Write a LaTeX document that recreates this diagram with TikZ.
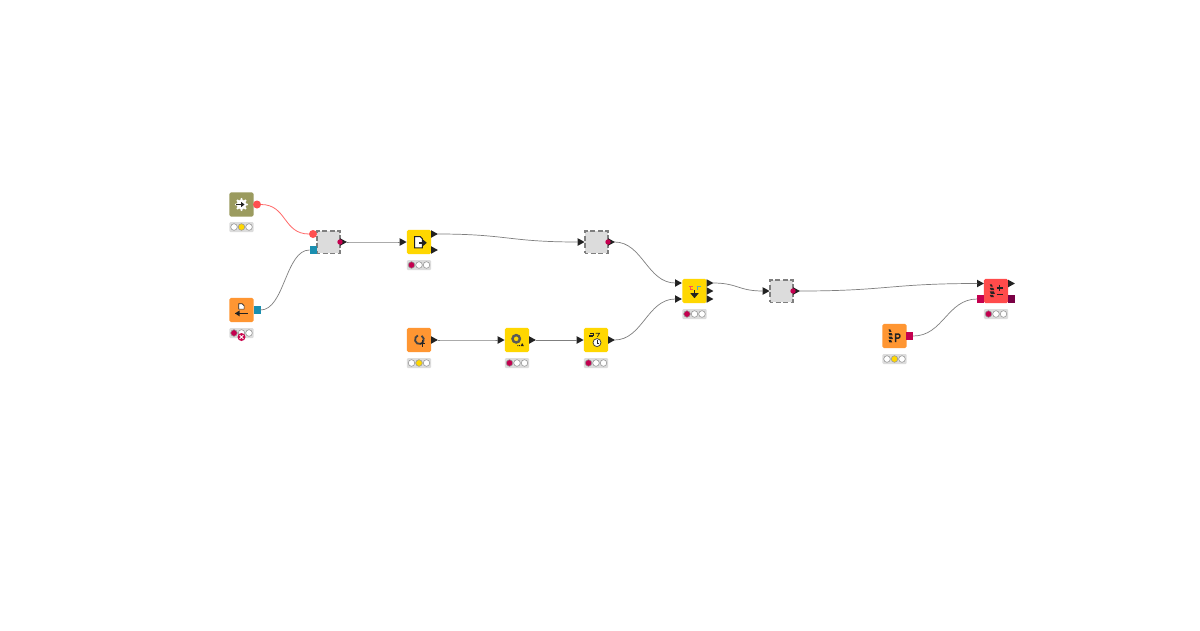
\documentclass[tikz,border=0pt]{standalone}
\definecolor{kolive}{HTML}{9B9B5F}
\definecolor{korange}{HTML}{FF9632}
\definecolor{kyellow}{HTML}{FFD700}
\definecolor{kred}{HTML}{FF4B4B}
\definecolor{kmeta}{HTML}{DCDCDC}
\definecolor{kcrim}{HTML}{C4004F}
\definecolor{kdark}{HTML}{7A0045}
\definecolor{kteal}{HTML}{1A8FB0}
\definecolor{kflow}{HTML}{FF5050}
\definecolor{kline}{HTML}{7F7F7F}
\definecolor{kport}{HTML}{222222}
\tikzset{
  kbox/.style={draw=none,rounded corners=1.8pt,minimum width=24.4pt,minimum height=24.4pt,inner sep=0pt,outer sep=0pt},
  kmetabox/.style={draw=kline,line width=1.6pt,dash pattern=on 5pt off 2.5pt,dash phase=2pt,fill=kmeta,minimum width=22.6pt,minimum height=22.6pt,inner sep=0pt,outer sep=0pt},
  ktray/.style={fill=kmeta,rounded corners=1.2pt,minimum width=24.4pt,minimum height=10pt,inner sep=0pt,outer sep=0pt},
  kconn/.style={draw=kline,line width=.7pt},
  kflowconn/.style={draw=kflow!85,line width=.8pt},
  kdot/.style={circle,draw=kline!80,line width=.6pt,fill=white,minimum size=6.6pt,inner sep=0pt},
  ksq/.style={minimum width=7pt,minimum height=8pt,inner sep=0pt,outer sep=0pt},
  kfd/.style={circle,fill=#1,minimum size=8pt,inner sep=0pt,outer sep=0pt},
}
% status tray: name, x, y, colour left, colour middle
\newcommand{\ktrayat}[5]{%
  \node[ktray] (#1) at (#2,#3) {};
  \node[kdot,fill=#4] (#1l) at (#2-7.5,#3) {};
  \node[kdot,fill=#5] (#1m) at (#2,#3) {};
  \node[kdot] (#1r) at (#2+7.5,#3) {};
}
\newcommand{\kin}[3]{\coordinate (#1) at (#2,#3);
  \fill[kport] (#1)+(-.3,-3.8) -- +(6.6,0) -- +(-.3,3.8) -- cycle;}
\newcommand{\kconnect}[3]{\draw[kconn] (#1) .. controls ([xshift=#3]#1) and ([xshift=-#3]#2) .. (#2);}
\begin{document}
\begin{tikzpicture}[x=1pt,y=-1pt]
\useasboundingbox (0,0) rectangle (1200,630);
\fill[white] (0,0) rectangle (1200,630);
% nodes
\node[kbox,fill=kolive] (a) at (241.5,204.5) {};
\node[kbox,fill=korange] (b) at (241.5,310) {};
\node[kmetabox] (m1) at (328.5,242) {};
\node[kbox,fill=kyellow] (c) at (419,242) {};
\node[kmetabox] (m2) at (596.5,242) {};
\node[kbox,fill=korange] (d) at (419,340) {};
\node[kbox,fill=kyellow] (e) at (517,340) {};
\node[kbox,fill=kyellow] (f) at (596,340) {};
\node[kbox,fill=kyellow] (g) at (694.5,291) {};
\node[kmetabox] (m3) at (781.5,291) {};
\node[kbox,fill=korange] (i) at (894.5,336) {};
\node[kbox,fill=kred] (h) at (996,291) {};
% trays
\ktrayat{ta}{241.5}{227}{white}{kyellow}
\ktrayat{tb}{241.5}{333}{kcrim}{white}
\ktrayat{tc}{419}{265}{kcrim}{white}
\ktrayat{td}{419}{363}{white}{kyellow}
\ktrayat{te}{517}{363}{kcrim}{white}
\ktrayat{tf}{596}{363}{kcrim}{white}
\ktrayat{tg}{694.5}{314}{kcrim}{white}
\ktrayat{th}{996}{314}{kcrim}{white}
\ktrayat{ti}{894.5}{359}{white}{kyellow}
% error badge
\node[kfd=kcrim!90!kflow] (errb) at (241.5,337) {};
\draw[white,line width=.9pt] (239.6,335.1) -- (243.4,338.9) (243.4,335.1) -- (239.6,338.9);
% ports
\node[kfd=kflow] (aout) at (257,204.5) {};
\node[kfd=kflow] (m1inf) at (313,234) {};
\node[ksq,fill=kteal] (m1int) at (313,250) {};
\node[ksq,fill=kteal] (bout) at (257,310) {};
\fill[kport] (340,238.2) -- (347,242) -- (340,245.8) -- cycle;
\node[circle,fill=kcrim,minimum size=5.4pt,inner sep=0pt] (m1dot) at (340,242) {};
\coordinate (m1out) at (346.5,242);
\kin{cin}{400}{242}
\kin{cout}{431.3}{234}
\kin{coutb}{431.3}{250}
\coordinate (coutt) at (437.5,234);
\kin{m2in}{578}{242}
\fill[kport] (608,238.2) -- (615,242) -- (608,245.8) -- cycle;
\node[circle,fill=kcrim,minimum size=5.4pt,inner sep=0pt] (m2dot) at (608,242) {};
\coordinate (m2out) at (614.5,242);
\kin{dout}{431.3}{340}
\coordinate (doutt) at (437.5,340);
\kin{ein}{498}{340}
\kin{eout}{529.3}{340}
\coordinate (eoutt) at (535.5,340);
\kin{fin}{577}{340}
\kin{fout}{608.3}{340}
\coordinate (foutt) at (614.5,340);
\kin{gina}{675.3}{283}
\kin{ginb}{675.3}{299}
\kin{gouta}{706.8}{283}
\kin{goutb}{706.8}{291}
\kin{goutc}{706.8}{299}
\coordinate (goutt) at (713,283);
\kin{m3in}{763}{291}
\fill[kport] (793,287.2) -- (800,291) -- (793,294.8) -- cycle;
\node[circle,fill=kcrim,minimum size=5.4pt,inner sep=0pt] (m3dot) at (793,291) {};
\coordinate (m3out) at (799.5,291);
\kin{hin}{977.3}{283.5}
\node[ksq,fill=kcrim] (hinb) at (980.7,299) {};
\kin{hout}{1008.3}{283.5}
\node[ksq,fill=kdark] (houtb) at (1011.7,299) {};
\node[ksq,fill=kcrim] (iout) at (909.7,336) {};
% connectors
\draw[kflowconn] (aout.east) .. controls +(26,0) and ([xshift=-26]m1inf.west) .. (m1inf.west);
\kconnect{bout.east}{m1int.west}{24}
\kconnect{m1out}{cin}{20}
\kconnect{coutt}{m2in}{70}
\kconnect{m2out}{gina}{28}
\kconnect{foutt}{ginb}{28}
\kconnect{doutt}{ein}{25}
\kconnect{eoutt}{fin}{20}
\kconnect{goutt}{m3in}{25}
\kconnect{m3out}{hin}{88}
\kconnect{iout.east}{hinb.west}{30}
% icons
\begin{scope}[shift={(a.center)}]
  \fill[white] (0,0) circle (5);
  \foreach \t in {0,45,...,315} \fill[white] (\t:5.4) circle (1.3);
  \draw[kport,line width=1.1pt] (-5.5,0) -- (.6,0);
  \fill[kport] (-.4,-2.6) -- (3,0) -- (-.4,2.6) -- cycle;
\end{scope}
\begin{scope}[shift={(b.center)}]
  \draw[kport,fill=white,line width=.7pt] (-2.8,-6.2) -- (.6,-6.2) -- (2.6,-4.2) -- (2.6,-.9) -- (-2.8,-.9) -- cycle;
  \fill[kport] (-1.8,.4) -- (-6.6,3.4) -- (-1.8,6.4) -- cycle;
  \draw[kport,line width=1pt] (-6.5,3.4) -- (6,3.4);
\end{scope}
\begin{scope}[shift={(c.center)}]
  \draw[kport,fill=white,line width=1pt] (-4.5,-5.5) -- (1.2,-5.5) -- (3.4,-3.3) -- (3.4,5.8) -- (-4.5,5.8) -- cycle;
  \draw[kport,line width=1.4pt] (0,0.8) -- (5,0.8);
  \fill[kport] (3.8,-2.6) -- (7.8,.8) -- (3.8,4.2) -- cycle;
\end{scope}
\begin{scope}[shift={(d.center)}]
  \draw[kport!85,line width=1.8pt] (.4,-.4) ++(-60:4.4) arc (-60:250:4.4);
  \draw[kport,line width=1.1pt] (.6,3.4) -- (6.4,3.4) (3.6,.4) -- (3.6,6.6);
\end{scope}
\begin{scope}[shift={(e.center)}]
  \draw[kport!75,line width=2.4pt] (-.8,-1.2) circle (3.7);
  \fill[kport] (3.6,6) -- (5.2,3) -- (6.8,6) -- cycle;
  \fill[kport] (.4,5.2) rectangle (1.3,6.2) (2.1,5.2) rectangle (2.8,6.2);
\end{scope}
\begin{scope}[shift={(f.center)}]
  \draw[kport,line width=.7pt] (-6.3,-6.7) -- (-2.8,-6.7) -- (-2.8,-5) -- (-6.3,-5) -- (-6.3,-3.2) -- (-2.8,-3.2);
  \draw[kport,line width=.7pt] (-.5,-6.7) -- (3.5,-6.7) -- (1.4,-3.2);
  \draw[kport!85,fill=white,line width=.8pt] (1,2.6) circle (4);
  \draw[kport,line width=.6pt] (1,.4) -- (1,2.8) -- (2.8,2.8);
\end{scope}
\begin{scope}[shift={(g.center)}]
  \draw[kflow,line width=.8pt] (-6,-4.6) -- (-1.8,-4.6) (-4,-4.6) -- (-4,-1.8) (-5,-1.8) -- (-1.2,-1.8);
  \draw[kteal!75,line width=.8pt] (2,-4.6) -- (6.8,-4.6) (2.6,-4.6) -- (2.6,-.8);
  \draw[kport,line width=1.3pt] (0,-1) -- (0,4);
  \fill[kport] (-4.2,2.2) -- (4.2,2.2) -- (0,7.2) -- cycle;
\end{scope}
\begin{scope}[shift={(h.center)}]
  \foreach \yy/\ww in {-5.5/2,-2/3.5,1.6/4,5/3.2} \fill[kport] (-6.2,\yy-1.2) -- (-6.2+\ww,\yy-1.2) -- (-6.2+\ww+1,\yy+1.2) -- (-6.2+1,\yy+1.2) -- cycle;
  \draw[kport,line width=1.3pt] (.6,-3) -- (6.8,-3) (3.7,-6.5) -- (3.7,.2) (.6,3.6) -- (6.8,3.6);
\end{scope}
\begin{scope}[shift={(i.center)}]
  \foreach \yy/\ww in {-5.4/1.8,-1.8/3,1.8/3.4,5.2/2.6} \fill[kport] (-6,\yy-1.2) -- (-6+\ww,\yy-1.2) -- (-6+\ww+1.2,\yy+1.2) -- (-5,\yy+1.2) -- cycle;
  \draw[kport,line width=1.5pt] (1.2,6) -- (1.2,-2) -- (3.6,-2) .. controls (6,-2) and (6,2.2) .. (3.6,2.2) -- (1.2,2.2);
\end{scope}
\end{tikzpicture}
\end{document}
